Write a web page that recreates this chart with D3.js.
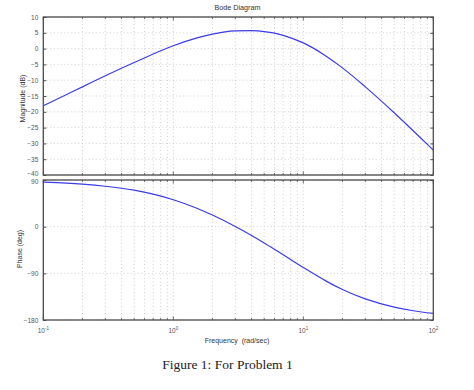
<!DOCTYPE html>
<html><head><meta charset="utf-8">
<script src="https://cdn.jsdelivr.net/npm/d3@7"></script>
<style>body{margin:0;background:#fff}svg{display:block}</style>
</head><body>
<svg id="c" width="474" height="390"></svg>
<script>
// Data
const freq   = [0.1, 0.15, 0.2, 0.3, 0.5, 0.7, 1, 1.5, 2, 3, 4, 5, 6, 7, 10, 15, 20, 30, 50, 70, 100];
const magDb  = [-18.1, -14.6, -12.1, -8.6, -4.4, -1.7, 0.9, 3.3, 4.6, 5.6, 5.7, 5.4, 4.9, 4.2, 1.8, -2.4, -6.1, -12.1, -20.3, -26.0, -32.1];
const phaseDeg = [86.0, 84.0, 82.0, 78.0, 70.3, 62.7, 52.0, 36.1, 22.4, 0.3, -17.0, -31.3, -43.5, -54.0, -78.7, -105.0, -121.2, -139.3, -155.1, -162.1, -167.4];
const magTicks = [10, 5, 0, -5, -10, -15, -20, -25, -30, -35, -40];
const phaseTicks = [90, 0, -90, -180];
const decadeExps = [-1, 0, 1, 2];
const titleText = "Bode Diagram";
const magLabel = "Magnitude (dB)";
const phaseLabel = "Phase (deg)";
const xLabel = "Frequency  (rad/sec)";
const caption = "Figure 1: For Problem 1";

const svg = d3.select("#c");
const L = 43.3, R = 433.3;
const x = d3.scaleLog().domain([0.1, 100]).range([L, R]);
const yM = d3.scaleLinear().domain([-40, 10]).range([175, 17]);
const yP = d3.scaleLinear().domain([-180, 90]).range([320, 180]);

const font = "'Liberation Sans', Arial, Helvetica, sans-serif";
const axisCol = "#4a4a4a";
const gridCol = "#c4c4c4";
const lineCol = "#3b3bea";

const minor = [];
[0.1, 1, 10].forEach(d => { for (let k = 2; k <= 9; k++) minor.push(d * k); });
const allX = minor.concat([1, 10]);

function panel(y, ticks, values, labelShift) {
  const g = svg.append("g");
  const [y0, y1] = y.range();
  g.selectAll(".gx").data(allX).enter().append("line")
    .attr("x1", d => x(d)).attr("x2", d => x(d)).attr("y1", y1).attr("y2", y0)
    .attr("stroke", gridCol).attr("stroke-width", 0.8).attr("stroke-dasharray", "1,2.5");
  g.selectAll(".gy").data(ticks).enter().append("line")
    .attr("x1", L).attr("x2", R).attr("y1", d => y(d)).attr("y2", d => y(d))
    .attr("stroke", gridCol).attr("stroke-width", 0.8).attr("stroke-dasharray", "1,2.5");
  g.append("path").datum(freq.map((f, i) => [f, values[i]]))
    .attr("fill", "none").attr("stroke", lineCol).attr("stroke-width", 1.2)
    .attr("d", d3.line().x(d => x(d[0])).y(d => y(d[1])).curve(d3.curveMonotoneX));
  const ax = d3.axisLeft(y).tickValues(ticks).tickSize(-3).tickPadding(5).tickFormat(d3.format("d"));
  const ga = g.append("g").attr("transform", `translate(${L},0)`).call(ax);
  ga.select(".domain").remove();
  ga.selectAll("line").attr("stroke", axisCol);
  ga.selectAll("text").attr("font-family", font).attr("font-size", 6.5).attr("fill", "#555")
    .attr("transform", d => `translate(0,${labelShift(d)})`);
  const axR = d3.axisRight(y).tickValues(ticks).tickSize(-3).tickFormat("");
  const gr = g.append("g").attr("transform", `translate(${R},0)`).call(axR);
  gr.select(".domain").remove(); gr.selectAll("line").attr("stroke", axisCol);
  const majors = decadeExps.map(e => Math.pow(10, e));
  [[y0, -1], [y1, 1]].forEach(([yy, dir]) => {
    g.selectAll(null).data(minor).enter().append("line")
      .attr("x1", d => x(d)).attr("x2", d => x(d)).attr("y1", yy).attr("y2", yy + dir * 2)
      .attr("stroke", axisCol).attr("stroke-width", 0.8);
    g.selectAll(null).data(majors).enter().append("line")
      .attr("x1", d => x(d)).attr("x2", d => x(d)).attr("y1", yy).attr("y2", yy + dir * 3.5)
      .attr("stroke", axisCol).attr("stroke-width", 0.8);
  });
  g.append("rect").attr("x", L).attr("y", y1).attr("width", R - L).attr("height", y0 - y1)
    .attr("fill", "none").attr("stroke", axisCol).attr("stroke-width", 1.3);
}
panel(yM, magTicks, magDb, d => d === -40 ? -2 : 0);
panel(yP, phaseTicks, phaseDeg, d => d === 90 ? 1.5 : 0);

decadeExps.forEach(e => {
  const t = svg.append("text").attr("x", x(Math.pow(10, e))).attr("y", 333)
    .attr("text-anchor", "middle").attr("font-family", font).attr("font-size", 6.5).attr("fill", "#555");
  t.append("tspan").text("10");
  t.append("tspan").attr("dy", -3).attr("font-size", 4.5).text(e);
});

svg.append("text").attr("x", 237.5).attr("y", 10).attr("text-anchor", "middle")
  .attr("font-family", font).attr("font-size", 7.2).attr("fill", "#333").text(titleText);
svg.append("text").attr("transform", "translate(24.5,98.5) rotate(-90)").attr("text-anchor", "middle")
  .attr("font-family", font).attr("font-size", 7).attr("fill", "#333").text(magLabel);
svg.append("text").attr("transform", "translate(22,249) rotate(-90)").attr("text-anchor", "middle")
  .attr("font-family", font).attr("font-size", 7).attr("fill", "#333").text(phaseLabel);
svg.append("text").attr("x", 237).attr("y", 343).attr("text-anchor", "middle")
  .attr("font-family", font).attr("font-size", 7).attr("fill", "#333")
  .style("white-space", "pre").text(xLabel);
svg.append("text").attr("x", 227.5).attr("y", 369).attr("text-anchor", "middle")
  .attr("font-family", "'Liberation Serif', 'DejaVu Serif', serif").attr("font-size", 13.5).attr("fill", "#222").text(caption);
</script>
</body></html>
